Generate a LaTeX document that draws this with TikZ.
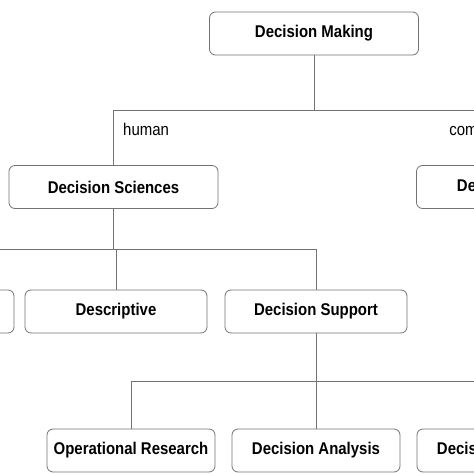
\documentclass[tikz,border=0pt]{standalone}
\usepackage{fontspec}
\setmainfont{Liberation Sans}[FakeStretch=0.88]
\usetikzlibrary{positioning}

\begin{document}
\begin{tikzpicture}[x=1pt,y=-1pt,
    box/.style={draw=black!55, line width=0.8pt, rounded corners=6pt, fill=white,
        minimum height=43pt, inner sep=0pt, font=\fontsize{17}{20}\selectfont\bfseries},
    lbl/.style={inner sep=0pt, font=\fontsize{17}{20}\selectfont},
    conn/.style={draw=black!55, line width=0.8pt}]
    \useasboundingbox (0,0) rectangle (474,474);
    \clip (0,0) rectangle (474,474);
    % top
    \node[box, minimum width=209pt] (dm) at (314,33.5) {Decision Making};
    \node[box, minimum width=209pt] (ds) at (113.5,187) {Decision Sciences};
    \node[box, minimum width=209pt] (dc) at (521,187) {Decision Systems};
    % middle row
    \node[box, minimum width=182pt] (nm) at (-77,311.5) {Normative};
    \node[box, minimum width=182pt] (dp) at (116,311.5) {Descriptive};
    \node[box, minimum width=182pt] (dsu) at (316,311.5) {Decision Support};
    % bottom row
    \node[box, minimum width=168pt] (or) at (131,450.5) {Operational Research};
    \node[box, minimum width=168pt] (da) at (316,450.5) {Decision Analysis};
    \node[box, minimum width=168pt] (dy) at (501,450.5) {Decision Systems};
    % branch labels
    \node[lbl, anchor=base west] (hu) at (123,135.5) {human};
    \node[lbl, anchor=base east] (cp) at (512,135.5) {computer};
    % connectors
    \coordinate (j1) at (314,110);
    \coordinate (j2) at (113.5,249);
    \coordinate (j3) at (316,381);
    \draw[conn] (dm) -- (j1) -| (ds);
    \draw[conn] (j1) -| (dc);
    \draw[conn] (ds) -- (j2) -| (nm);
    \draw[conn] (j2) -| (dp);
    \draw[conn] (j2) -| (dsu);
    \draw[conn] (dsu) -- (j3) -| (or);
    \draw[conn] (j3) -- (da);
    \draw[conn] (j3) -| (dy);
\end{tikzpicture}
\end{document}
